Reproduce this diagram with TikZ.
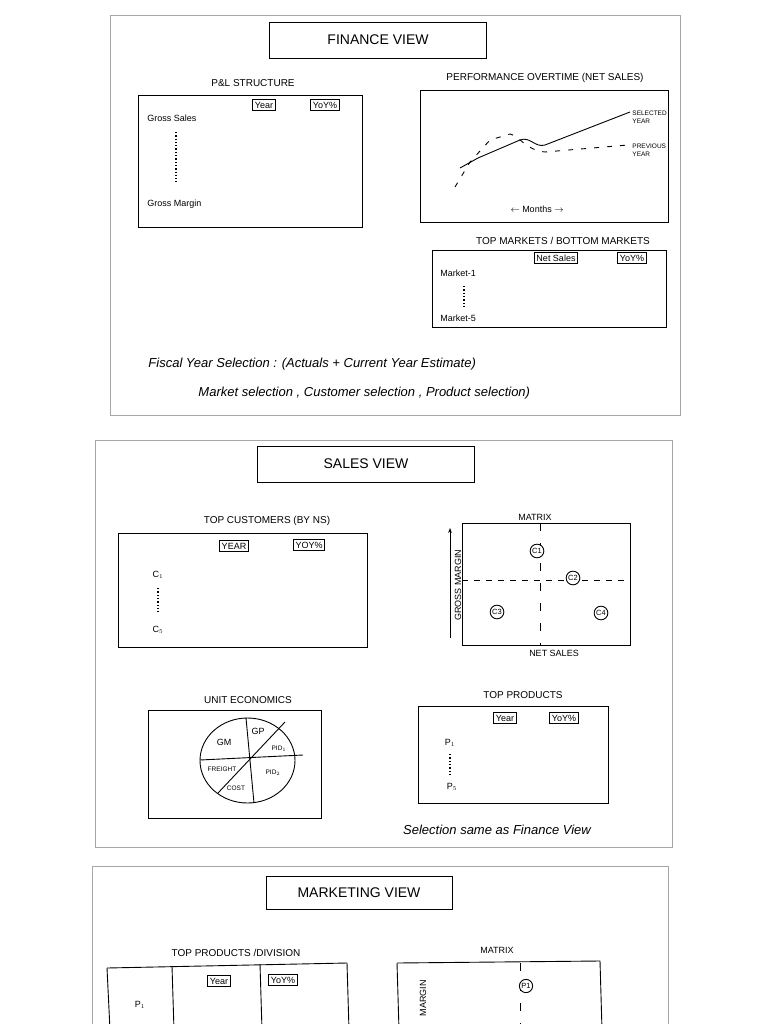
\documentclass[tikz,border=0pt]{standalone}
\usepackage{fontspec}
\setmainfont{Liberation Sans}
\usetikzlibrary{arrows.meta}
\begin{document}
\begin{tikzpicture}[x=1pt,y=-1pt,line width=0.9pt,
  lbl/.style={inner sep=0pt,font=\fontsize{10}{11}\selectfont},
  sm/.style={inner sep=0pt,font=\fontsize{9}{10}\selectfont},
  tiny/.style={inner sep=0pt,font=\fontsize{6.5}{7.5}\selectfont,align=left},
  hand/.style={inner sep=0pt,font=\itshape\fontsize{13}{14}\selectfont},
  ttl/.style={inner sep=0pt,font=\fontsize{14}{15}\selectfont},
  panel/.style={draw=black!35,line width=0.6pt,fill=white},
  tag/.style={draw,inner sep=2pt,font=\fontsize{9}{10}\selectfont},
  cir/.style={draw,circle,inner sep=1pt,font=\fontsize{7.5}{8}\selectfont},
  dts/.style={dotted,line width=1.3pt}]
\useasboundingbox (0,0) rectangle (768,1024);
\fill[white] (0,0) rectangle (768,1024);
% panels
\draw[panel] (110,15) rectangle (680,415);
\draw[panel] (95,440) rectangle (672,847);
\draw[panel] (92,866) rectangle (668,1030);

% ===== FINANCE VIEW
\node[draw,minimum width=217,minimum height=36] (t1) at (378,40) {};
\node[ttl] at (t1) {FINANCE VIEW};
\node[lbl] (pl) at (253,83) {P\&L STRUCTURE};
\draw (138,95) rectangle (362,227);
\node[tag] (y1) at (264,105) {Year};
\node[tag] (yy1) at (325,105) {YoY\%};
\node[sm,anchor=west] (gs) at (147,118) {Gross Sales};
\draw[dts] (176,132) -- (176,182);
\node[sm,anchor=west] (gm) at (147,204) {Gross Margin};

\node[lbl] (po) at (545,78) {PERFORMANCE OVERTIME (NET SALES)};
\draw (420,90) rectangle (668,222);
\draw (460,168) -- (478,158) -- (520,140) .. controls (530,136) and (535,148) .. (545,145) -- (630,112);
\draw[dashed,dash pattern=on 5pt off 8pt] (455,187) -- (470,162) -- (490,140) -- (510,134) .. controls (520,136) and (525,150) .. (545,152) -- (628,145);
\node[tiny,anchor=west] (sy) at (632,117) {SELECTED\\YEAR};
\node[tiny,anchor=west] (py) at (632,150) {PREVIOUS\\YEAR};
\node[sm] (mo) at (537,209) {$\leftarrow$ Months $\rightarrow$};

\node[lbl] (tm) at (563,241) {TOP MARKETS / BOTTOM MARKETS};
\draw (432,250) rectangle (666,327);
\node[tag] (ns1) at (556,258) {Net Sales};
\node[tag] (yy2) at (632,258) {YoY\%};
\node[sm,anchor=west] (m1) at (440,273) {Market-1};
\draw[dts] (464,286) -- (464,306);
\node[sm,anchor=west] (m5) at (440,318) {Market-5};

\node[hand,anchor=west] (fy) at (148,364) {Fiscal Year Selection : (Actuals + Current Year Estimate)};
\node[hand,anchor=west] (ms) at (198,393) {Market selection , Customer selection , Product selection)};

% ===== SALES VIEW
\node[draw,minimum width=217,minimum height=36] (t2) at (366,464) {};
\node[ttl] at (t2) {SALES VIEW};
\node[lbl] (tc) at (267,521) {TOP CUSTOMERS (BY NS)};
\draw (118,533) rectangle (367,647);
\node[tag] (y2) at (234,546) {YEAR};
\node[tag] (yy3) at (309,545) {YOY\%};
\node[sm] (c1) at (158,575) {C$_1$};
\draw[dts] (158,588) -- (158,612);
\node[sm] (c5) at (158,630) {C$_5$};

\node[sm] (mx) at (535,517) {MATRIX};
\draw (462,523) rectangle (630,645);
\draw[-{Stealth[length=5pt]}] (450,638) -- (450,528);
\node[sm,rotate=90] (gmar) at (458,585) {GROSS MARGIN};
\node[sm] (nsl) at (554,653) {NET SALES};
\draw[dashed,dash pattern=on 6pt off 6pt] (462,580) -- (630,580);
\draw[dashed,dash pattern=on 8pt off 12pt] (540,523) -- (540,645);
\node[cir,fill=white] (cc1) at (537,551) {C1};
\node[cir,fill=white] (cc2) at (573,578) {C2};
\node[cir,fill=white] (cc3) at (497,612) {C3};
\node[cir,fill=white] (cc4) at (601,613) {C4};

\node[lbl] (ue) at (248,700) {UNIT ECONOMICS};
\draw (148,710) rectangle (321,818);
\draw (247.5,760.5) circle[x radius=47.5,y radius=42.5];
\draw (246,718) -- (254,803);
\draw (200,760) -- (303,755);
\draw (285,722) -- (218,793);
\node[sm] at (224,742) {GM};
\node[sm] at (258,731) {GP};
\node[tiny] at (279,749) {PID$_1$};
\node[tiny] at (222,769) {FREIGHT};
\node[tiny] at (236,788) {COST};
\node[tiny] at (273,773) {PID$_2$};

\node[lbl] (tp) at (523,695) {TOP PRODUCTS};
\draw (418,706) rectangle (608,803);
\node[tag] (y3) at (505,718) {Year};
\node[tag] (yy4) at (564,718) {YoY\%};
\node[sm] (p1) at (450,743) {P$_1$};
\draw[dts] (450,754) -- (450,774);
\node[sm] (p5) at (452,787) {P$_5$};
\node[hand] (ss) at (497,830) {Selection same as Finance View};

% ===== MARKETING VIEW
\node[draw,minimum width=186,minimum height=33] (t3) at (359,893) {};
\node[ttl] at (t3) {MARKETING VIEW};
\node[lbl] (tpd) at (236,953) {TOP PRODUCTS /DIVISION};
\draw (107,968) -- (347,963);
\draw (107,968) -- (110,1030);
\draw (172,966) -- (174,1030);
\draw (260,964) -- (262,1030);
\draw (347,963) -- (349,1030);
\node[tag] (y4) at (219,981) {Year};
\node[tag] (yy5) at (283,980) {YoY\%};
\node[sm] (mp1) at (140,1005) {P$_1$};

\node[sm] (mx2) at (497,950) {MATRIX};
\draw (397,963) -- (600,961) -- (602,1030);
\draw (397,963) -- (399,1030);
\node[sm,rotate=90] (mar) at (423,998) {MARGIN};
\draw[dashed,dash pattern=on 8pt off 12pt] (520,963) -- (520,1030);
\node[cir,fill=white] (mp) at (526,986) {P1};
\end{tikzpicture}
\end{document}
